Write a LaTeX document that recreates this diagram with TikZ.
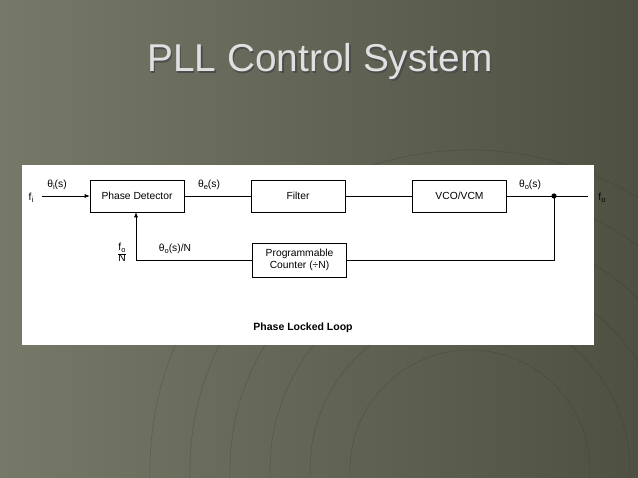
\documentclass[tikz,border=0pt]{standalone}
\usepackage{fontspec}
\setmainfont{Liberation Sans}
\usetikzlibrary{arrows.meta}
\definecolor{bgdark}{RGB}{78,80,66}
\definecolor{bglight}{RGB}{118,120,104}
\newcommand{\sbs}[1]{\raisebox{-2.2pt}{\fontsize{7.5}{8}\selectfont #1}}
\tikzset{
  blk/.style={draw,line width=0.6pt,minimum width=94pt,minimum height=32pt,font=\fontsize{10.3}{12.5}\selectfont,align=center,inner sep=1pt},
  lbl/.style={font=\fontsize{10.3}{12}\selectfont,inner sep=0pt},
  wire/.style={line width=0.6pt},
  arr/.style={wire,-{Latex[length=5pt,width=4pt]}}
}
\begin{document}
\begin{tikzpicture}[x=1pt,y=-1pt]
\useasboundingbox (0,0) rectangle (638,478);
\shade[left color=bglight,right color=bgdark] (0,0) rectangle (638,478);
\foreach \r in {120,160,200,240,280,320}
  \draw[bgdark!60!black,opacity=0.3,line width=0.5pt] (470,470) circle (\r);
\node[font=\fontsize{38.8}{42}\selectfont,text=black!70] (ttlsh) at (321.5,63) {PLL Control System};
\node[font=\fontsize{38.8}{42}\selectfont,text=black!12] (ttl) at (320,61) {PLL Control System};
\fill[white] (22,165) rectangle (594,345);
\node[blk] (pd) at (137,196) {Phase Detector};
\node[blk] (fl) at (298,196) {Filter};
\node[blk] (vco) at (459.5,196) {VCO/VCM};
\node[blk,minimum height=34pt] (pc) at (299.5,260) {Programmable\\Counter (÷N)};
\coordinate (in) at (42,196);
\coordinate (out) at (588,196);
\coordinate (dot) at (554,196);
\coordinate (br) at (554,260);
\coordinate (bl) at (136,260);
\fill (dot) circle (2.6);
\draw[arr] (in) -- (pd.west);
\draw[wire] (pd) -- (fl);
\draw[wire] (fl) -- (vco);
\draw[wire] (vco) -- (out);
\draw[wire] (dot) -- (br) -- (pc.east);
\draw[arr] (pc.west) -- (bl) -- (bl |- pd.south);
\node[lbl] (fi) at (31,198) {f\sbs{i}};
\node[lbl] (fo) at (602,198) {f\sbs{o}};
\node[lbl] (ti) at (57,185) {θ\sbs{i}(s)};
\node[lbl] (te) at (209,185) {θ\sbs{e}(s)};
\node[lbl] (to) at (530,185) {θ\sbs{o}(s)};
\node[lbl] (ton) at (175,249) {θ\sbs{o}(s)/N};
\node[lbl,align=center] (fon) at (122,252) {\underline{f\sbs{o}}\\[-1pt]N};
\node[font=\bfseries\fontsize{10.5}{12}\selectfont] (cap) at (303,328) {Phase Locked Loop};
\end{tikzpicture}
\end{document}
